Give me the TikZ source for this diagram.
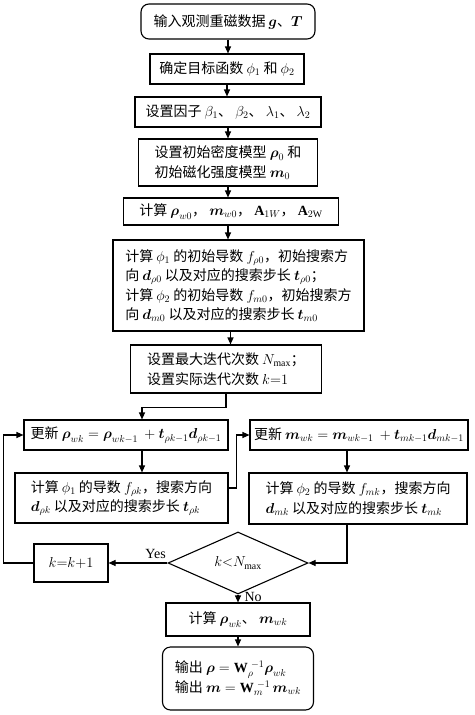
\documentclass[tikz,border=0pt]{standalone}
\usepackage{amsmath}
\usepackage{amssymb}
\usepackage{fontspec}
\setmainfont{Liberation Serif}
\newfontfamily\cjk{Noto Sans CJK SC}
\usepackage{tikz}
\usetikzlibrary{shapes,arrows.meta,positioning,calc}
\tikzset{
    box/.style={rectangle, draw, line width=1.1pt, align=left, inner sep=4pt, font=\cjk\fontsize{14}{19.5}\selectfont},
    rbox/.style={box, rounded corners=8pt},
    decision/.style={diamond, draw, line width=1.1pt, minimum width=140pt, minimum height=62pt, inner sep=0pt, font=\fontsize{14}{17}\selectfont},
    line/.style={draw, line width=1.1pt, -{Triangle[length=7pt,width=6pt]}},
    tag/.style={font=\fontsize{14}{17}\selectfont, inner sep=2pt}
}

\begin{document}
\begin{tikzpicture}[x=1pt, y=-1pt]
    \useasboundingbox (0,0) rectangle (474,715);

    % Preparation
    \node [rbox, minimum width=174pt, minimum height=35pt] (in) at (228,21.5) {输入观测重磁数据 $\boldsymbol{g}$、$\boldsymbol{T}$};
    \node [box, minimum width=154pt, minimum height=30pt] (obj) at (227,69) {确定目标函数 $\phi_1$ 和 $\phi_2$};
    \node [box, minimum width=186pt, minimum height=30pt] (factor) at (228,112) {设置因子 $\beta_1$、 $\beta_2$、 $\lambda_1$、 $\lambda_2$};
    \node [box, minimum width=179pt, minimum height=47pt] (init) at (228,162.5) {设置初始密度模型 $\boldsymbol{\rho}_0$ 和\\初始磁化强度模型 $\boldsymbol{m}_0$};
    \node [box, minimum width=215pt, minimum height=27pt] (calc0) at (231,211.5) {计算 $\boldsymbol{\rho}_{w0}$， $\boldsymbol{m}_{w0}$， $\mathbf{A}_{1W}$， $\mathbf{A}_{2\mathrm{W}}$};
    \node [box, minimum width=251pt, minimum height=91pt] (deriv0) at (238.5,285.5) {计算 $\phi_1$ 的初始导数 $f_{\rho 0}$，初始搜索方\\向 $\boldsymbol{d}_{\rho 0}$ 以及对应的搜索步长 $\boldsymbol{t}_{\rho 0}$；\\计算 $\phi_2$ 的初始导数 $f_{m0}$，初始搜索方\\向 $\boldsymbol{d}_{m0}$ 以及对应的搜索步长 $\boldsymbol{t}_{m0}$};
    \node [box, minimum width=191pt, minimum height=48pt] (iter) at (226,369) {设置最大迭代次数 $N_{\max}$；\\设置实际迭代次数 $k{=}1$};

    % Iteration
    \node [box, minimum width=204pt, minimum height=30pt] (uprho) at (126,435) {更新 $\boldsymbol{\rho}_{wk}=\boldsymbol{\rho}_{wk-1}\ +\boldsymbol{t}_{\rho k-1}\boldsymbol{d}_{\rho k-1}$};
    \node [box, minimum width=213pt, minimum height=50pt] (drho) at (121.5,498) {计算 $\phi_1$ 的导数 $f_{\rho k}$，搜索方向\\$\boldsymbol{d}_{\rho k}$ 以及对应的搜索步长 $\boldsymbol{t}_{\rho k}$};
    \node [box, minimum width=218pt, minimum height=30pt] (upm) at (359,435) {更新 $\boldsymbol{m}_{wk}=\boldsymbol{m}_{wk-1}\ +\boldsymbol{t}_{mk-1}\boldsymbol{d}_{mk-1}$};
    \node [box, minimum width=218pt, minimum height=51pt] (dm) at (358,498.5) {计算 $\phi_2$ 的导数 $f_{mk}$，搜索方向\\$\boldsymbol{d}_{mk}$ 以及对应的搜索步长 $\boldsymbol{t}_{mk}$};
    \node [decision] (dec) at (238,563) {$k{<}N_{\max}$};
    \node [box, minimum width=74pt, minimum height=38pt, font=\fontsize{14}{17}\selectfont] (kinc) at (71,563) {$k{=}k{+}1$};

    % Output
    \node [box, minimum width=144pt, minimum height=33pt] (calcw) at (238,619.5) {计算 $\boldsymbol{\rho}_{wk}$、 $\boldsymbol{m}_{wk}$};
    \node [rbox, minimum width=151pt, minimum height=63pt] (out) at (238,678.5) {输出 $\boldsymbol{\rho}=\mathbf{W}_{\rho}^{\ -1}\boldsymbol{\rho}_{wk}$\\输出 $\boldsymbol{m}=\mathbf{W}_{m}^{\ -1}\,\boldsymbol{m}_{wk}$};

    % Main flow
    \path [line] (in.south) -- (in.south |- obj.north);
    \path [line] (obj.south) -- (obj.south |- factor.north);
    \path [line] (factor.south) -- (factor.south |- init.north);
    \path [line] (init.south) -- (init.south |- calc0.north);
    \path [line] ([xshift=-3pt]calc0.south) -- ([xshift=-3pt]calc0.south |- deriv0.north);
    \path [line] ([xshift=-8pt]deriv0.south) -- ([xshift=-8pt]deriv0.south |- iter.north);
    \path [line] (iter.south) -- ++(0,14) -| ([xshift=16pt]uprho.north);
    \path [line] ([xshift=16pt]uprho.south) -- ([xshift=16pt]uprho.south |- drho.north);
    \path [line] ([yshift=10pt]drho.east) -- ++(8,0) |- (upm.west);
    \path [line] ([xshift=-12pt]upm.south) -- ([xshift=-12pt]upm.south |- dm.north);
    \path [line] ([xshift=-11pt]dm.south) |- (dec.east);

    % Loop back
    \path [line] (dec.west) -- node [tag, above, pos=0.2, yshift=2pt] {Yes} (kinc.east);
    \path [line] (kinc.west) -- ++(-30,0) |- (uprho.west);
    \path [line] (dec.south) -- node [tag, right, pos=0.3, xshift=4pt] {No} (dec.south |- calcw.north);
    \path [line] (calcw.south) -- (calcw.south |- out.north);
\end{tikzpicture}
\end{document}
